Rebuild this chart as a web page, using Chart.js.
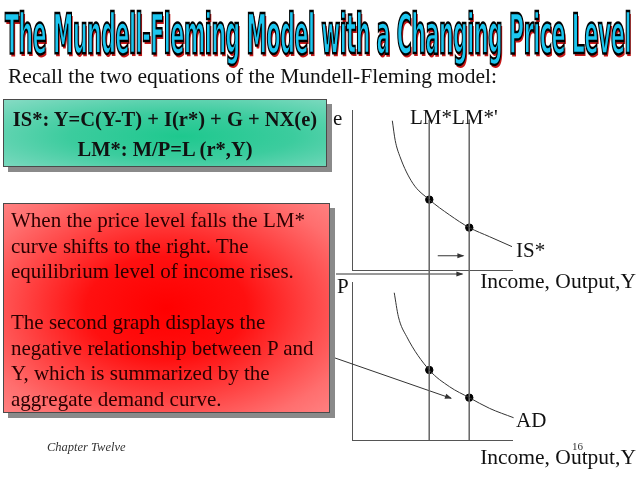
<!DOCTYPE html>
<html>
<head>
<meta charset="utf-8">
<title>Mundell-Fleming con nivel de precios</title>
<script src="https://cdn.jsdelivr.net/npm/chart.js@4.4.1/dist/chart.umd.min.js"></script>
<style>
    html, body { margin: 0; padding: 0; background: #fff; }
    #slide {
        position: relative;
        width: 638px;
        height: 478px;
        overflow: hidden;
        font-family: "Liberation Serif", "Times New Roman", serif;
        color: #111;
    }
    .lienzo { position: absolute; left: 0; top: 0; }
    .txt { position: absolute; white-space: nowrap; line-height: 1; font-size: 21px; }

    #titulo {
        left: 5px;
        top: 6px;
        font-family: "DejaVu Sans Condensed", "Liberation Sans Narrow", sans-serif;
        font-weight: bold;
        font-size: 56px;
        letter-spacing: -1px;
        color: #1cc6f0;
        -webkit-text-stroke: 2.5px #000;
        text-shadow: 3px 3px 0 #c81818;
        transform-origin: left top;
    }

    .caja {
        position: absolute;
        box-sizing: border-box;
        border: 1px solid #4a4a4a;
        box-shadow: 5px 5px 0 #8a8a8a;
    }
    #cajaVerde {
        left: 3px; top: 99px; width: 324px; height: 68px;
        background: radial-gradient(ellipse at 55% 55%, #1ec88e 0%, #3ccc9e 45%, #86dbc4 100%);
        font-weight: bold;
        font-size: 20.5px;
        text-align: center;
        color: #111;
    }
    #cajaVerde div { position: absolute; left: 0; right: 0; line-height: 1; }
    #cajaRoja {
        left: 3px; top: 203px; width: 327px; height: 210px;
        background: radial-gradient(ellipse at 50% 50%, #ff0000 0%, #ff1010 35%, #ff6e6e 85%, #ff8080 100%);
        color: #2a0000;
        font-size: 21px;
        line-height: 25.5px;
        padding: 4px 0 0 7px;
    }
    #footer { left: 47px; top: 441px; font-size: 12.5px; font-style: italic; color: #333; }
    #pagina { left: 572px; top: 441px; font-size: 11px; color: #333; }
</style>
</head>
<body>
<div id="slide">
    <canvas id="graficoIS" class="lienzo" width="638" height="478"></canvas>
    <canvas id="graficoAD" class="lienzo" width="638" height="478"></canvas>

    <div id="titulo" class="txt">The Mundell-Fleming Model with a Changing Price Level</div>
    <div class="txt" style="left:8px; top:66px; font-size:21.5px;">Recall the two equations of the Mundell-Fleming model:</div>

    <div id="cajaVerde" class="caja">
        <div style="top:9px;">IS*: Y=C(Y-T) + I(r*) + G + NX(e)</div>
        <div style="top:39px;">LM*: M/P=L (r*,Y)</div>
    </div>

    <div id="cajaRoja" class="caja">
        When the price level falls the LM*<br>
        curve shifts to the right. The<br>
        equilibrium level of income rises.<br>
        <br>
        The second graph displays the<br>
        negative relationship between P and<br>
        Y, which is summarized by the<br>
        aggregate demand curve.
    </div>

    <!-- Rótulos de los gráficos -->
    <div class="txt" style="left:333px; top:108px;">e</div>
    <div class="txt" style="left:410px; top:107px;">LM*LM*'</div>
    <div class="txt" style="left:516px; top:240px;">IS*</div>
    <div class="txt" style="right:2px; top:271px; font-size:21.5px;">Income, Output,Y</div>
    <div class="txt" style="left:337px; top:276px;">P</div>
    <div class="txt" style="left:516px; top:410px;">AD</div>
    <div class="txt" style="right:2px; top:447px; font-size:21.5px;">Income, Output,Y</div>

    <div id="footer" class="txt">Chapter Twelve</div>
    <div id="pagina" class="txt">16</div>
</div>

<script>
// ---- Datos (ingreso Y en el eje x, 0-10) ----

// Curva IS* (tipo de cambio e)
const isIngreso = [2.52, 2.7, 3.0, 3.8, 4.83, 6.1, 7.33, 8.6, 10.0];
const isCambio  = [9.33, 8.1, 7.08, 5.42, 4.4, 3.44, 2.65, 2.08, 1.46];

// Curva AD (nivel de precios P)
const adIngreso = [2.64, 2.9, 3.42, 4.83, 6.1, 7.33, 8.6, 10.1];
const adPrecio  = [9.32, 7.8, 6.54, 4.43, 3.37, 2.68, 2.0, 1.41];

// Posiciones de LM* y LM*'
const lmIngreso = [4.83, 7.33];
const lmTopeE = 9.4;      // extremo superior en el gráfico de arriba
const lmTopeP = 10.76;    // en el gráfico de abajo sube hasta el eje de arriba

// Equilibrios
const eqCambio = [4.4, 2.65];
const eqPrecio = [4.43, 2.68];

// Flechas: [x inicio, y inicio, x fin, y fin]
const flechaDesplazamiento = [5.36, 0.89, 6.96, 0.89];
const flechaIngreso        = [-1.0, -0.25, 6.9, -0.25];
const flechaTexto          = [-1.06, 5.19, 6.19, 2.64];

const COLOR_LINEA = '#333';
const COLOR_EJE = '#555';

document.addEventListener('DOMContentLoaded', function() {
    ajustarTitulo();
    initGraficoIS();
    initGraficoAD();
});

/**
 * Estira el título para que ocupe el ancho de la diapositiva
 */
function ajustarTitulo() {
    const titulo = document.getElementById('titulo');
    const ancho = titulo.getBoundingClientRect().width;
    titulo.style.transform = 'scaleX(' + (626 / ancho) + ')';
}

/**
 * Dibuja la punta de flecha en el último punto de los datasets marcados
 */
const pluginFlechas = {
    id: 'flechas',
    afterDatasetsDraw(chart) {
        const ctx = chart.ctx;
        chart.data.datasets.forEach((ds, i) => {
            if (!ds.flecha) return;
            const pts = chart.getDatasetMeta(i).data;
            const a = pts[pts.length - 2];
            const b = pts[pts.length - 1];
            const ang = Math.atan2(b.y - a.y, b.x - a.x);
            ctx.save();
            ctx.translate(b.x, b.y);
            ctx.rotate(ang);
            ctx.beginPath();
            ctx.moveTo(1, 0);
            ctx.lineTo(-6, -2.6);
            ctx.lineTo(-6, 2.6);
            ctx.closePath();
            ctx.fillStyle = ds.borderColor;
            ctx.fill();
            ctx.restore();
        });
    }
};

function puntos(xs, ys) {
    return xs.map((x, i) => ({ x: x, y: ys[i] }));
}

function curva(xs, ys) {
    return {
        data: puntos(xs, ys),
        showLine: true,
        borderColor: COLOR_LINEA,
        borderWidth: 1,
        pointRadius: 0,
        cubicInterpolationMode: 'monotone',
        clip: false
    };
}

function vertical(x, tope) {
    return {
        data: [{ x: x, y: tope }, { x: x, y: 0 }],
        showLine: true,
        borderColor: '#6a6a6a',
        borderWidth: 1,
        pointRadius: 0,
        clip: false
    };
}

function flecha(f) {
    return {
        data: [{ x: f[0], y: f[1] }, { x: f[2], y: f[3] }],
        showLine: true,
        borderColor: COLOR_LINEA,
        borderWidth: 1,
        pointRadius: 0,
        clip: false,
        flecha: true
    };
}

function equilibrios(ys) {
    return {
        data: puntos(lmIngreso, ys),
        showLine: false,
        pointRadius: 3.7,
        pointBackgroundColor: '#000',
        pointBorderColor: '#000',
        clip: false
    };
}

function ejeSimple() {
    return {
        type: 'linear',
        min: 0,
        max: 10,
        grid: { display: false, drawTicks: false },
        ticks: { display: false },
        border: { color: COLOR_EJE, width: 1 }
    };
}

function opciones(padding) {
    return {
        responsive: false,
        animation: false,
        layout: { padding: padding },
        plugins: {
            legend: { display: false },
            tooltip: { enabled: false }
        },
        scales: {
            x: ejeSimple(),
            y: ejeSimple()
        }
    };
}

/**
 * Gráfico superior: IS* y LM*
 */
function initGraficoIS() {
    const ctx = document.getElementById('graficoIS').getContext('2d');
    new Chart(ctx, {
        type: 'scatter',
        data: {
            datasets: [
                curva(isIngreso, isCambio),
                vertical(lmIngreso[0], lmTopeE),
                vertical(lmIngreso[1], lmTopeE),
                equilibrios(eqCambio),
                flecha(flechaDesplazamiento),
                flecha(flechaIngreso)
            ]
        },
        options: opciones({ left: 352, right: 126, top: 110, bottom: 208 }),
        plugins: [pluginFlechas]
    });
}

/**
 * Gráfico inferior: demanda agregada
 */
function initGraficoAD() {
    const ctx = document.getElementById('graficoAD').getContext('2d');
    new Chart(ctx, {
        type: 'scatter',
        data: {
            datasets: [
                curva(adIngreso, adPrecio),
                vertical(lmIngreso[0], lmTopeP),
                vertical(lmIngreso[1], lmTopeP),
                equilibrios(eqPrecio),
                flecha(flechaTexto)
            ]
        },
        options: opciones({ left: 352, right: 126, top: 282, bottom: 38 }),
        plugins: [pluginFlechas]
    });
}
</script>
</body>
</html>
